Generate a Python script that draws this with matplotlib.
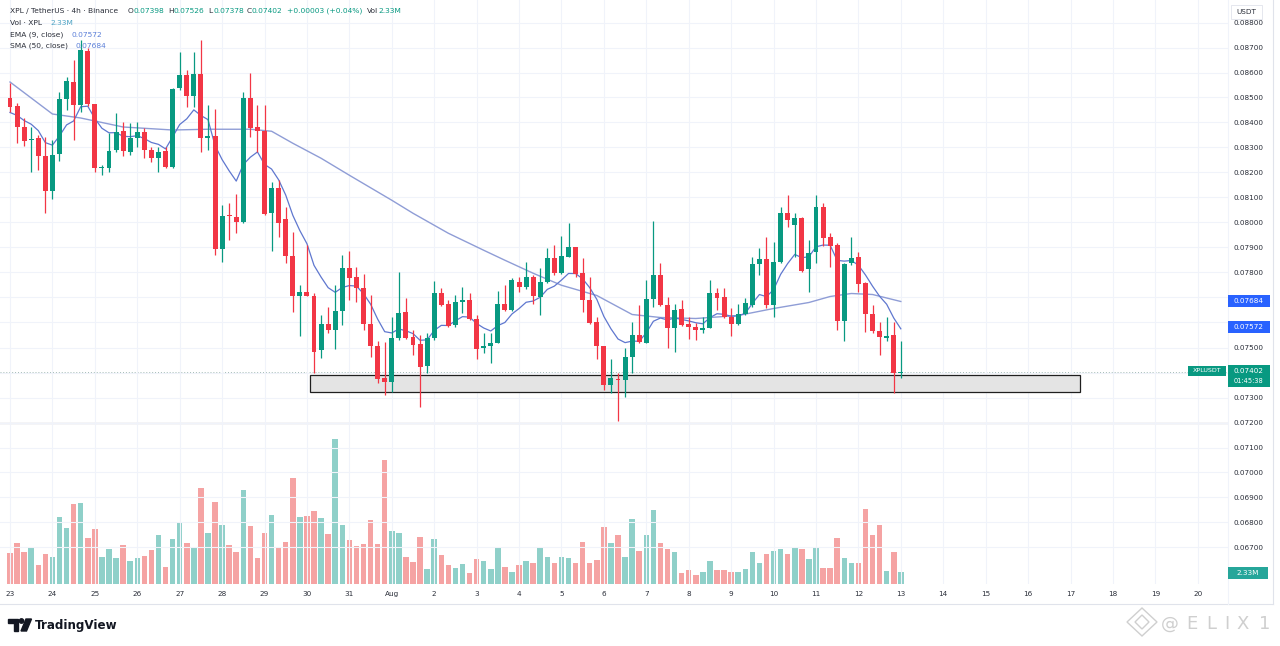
import matplotlib.pyplot as plt
import numpy as np
from matplotlib.patches import Rectangle, Polygon, Ellipse

W, H = 1280, 646

# 4h candles, Jul 23 00:00 .. Aug 13 00:00
opens = [0.08498, 0.08466, 0.08382, 0.08330, 0.08338, 0.08266, 0.08126, 0.08275, 0.08494, 0.08562,
         0.08470, 0.08686, 0.08474, 0.08218, 0.08218, 0.08290, 0.08366, 0.08282, 0.08338, 0.08362,
         0.08290, 0.08258, 0.08286, 0.08222, 0.08538, 0.08590, 0.08506, 0.08594, 0.08338, 0.08346,
         0.07894, 0.08030, 0.08022, 0.08002, 0.08498, 0.08382, 0.08366, 0.08038, 0.08138, 0.08014,
         0.07866, 0.07706, 0.07722, 0.07706, 0.07490, 0.07594, 0.07570, 0.07646, 0.07818, 0.07782,
         0.07738, 0.07594, 0.07506, 0.07378, 0.07362, 0.07538, 0.07642, 0.07542, 0.07514, 0.07426,
         0.07538, 0.07718, 0.07674, 0.07590, 0.07682, 0.07690, 0.07614, 0.07498, 0.07506, 0.07518,
         0.07674, 0.07650, 0.07762, 0.07742, 0.07782, 0.07702, 0.07762, 0.07858, 0.07798, 0.07862,
         0.07902, 0.07798, 0.07690, 0.07602, 0.07506, 0.07350, 0.07374, 0.07370, 0.07462, 0.07550,
         0.07518, 0.07694, 0.07790, 0.07670, 0.07578, 0.07654, 0.07594, 0.07582, 0.07570, 0.07578,
         0.07718, 0.07702, 0.07622, 0.07594, 0.07634, 0.07670, 0.07834, 0.07854, 0.07670, 0.07842,
         0.08038, 0.07990, 0.08018, 0.07814, 0.07882, 0.08062, 0.07942, 0.07910, 0.07606, 0.07838,
         0.07862, 0.07758, 0.07634, 0.07566, 0.07538, 0.07550, 0.07398]
highs = [0.08558, 0.08478, 0.08418, 0.08382, 0.08350, 0.08342, 0.08330, 0.08522, 0.08582, 0.08650,
         0.08730, 0.08700, 0.08474, 0.08230, 0.08358, 0.08438, 0.08402, 0.08398, 0.08402, 0.08378,
         0.08302, 0.08302, 0.08302, 0.08538, 0.08682, 0.08610, 0.08682, 0.08730, 0.08470, 0.08454,
         0.08070, 0.08078, 0.08114, 0.08522, 0.08598, 0.08470, 0.08470, 0.08162, 0.08170, 0.08062,
         0.07962, 0.07750, 0.07910, 0.07718, 0.07630, 0.07662, 0.07750, 0.07870, 0.07886, 0.07822,
         0.07794, 0.07710, 0.07526, 0.07522, 0.07622, 0.07802, 0.07698, 0.07570, 0.07550, 0.07558,
         0.07766, 0.07738, 0.07690, 0.07710, 0.07742, 0.07718, 0.07630, 0.07558, 0.07558, 0.07726,
         0.07750, 0.07778, 0.07782, 0.07842, 0.07790, 0.07818, 0.07898, 0.07910, 0.07946, 0.07998,
         0.07902, 0.07858, 0.07782, 0.07622, 0.07506, 0.07454, 0.07398, 0.07498, 0.07602, 0.07670,
         0.07770, 0.08006, 0.07838, 0.07702, 0.07674, 0.07690, 0.07622, 0.07598, 0.07622, 0.07770,
         0.07738, 0.07738, 0.07658, 0.07674, 0.07698, 0.07862, 0.07898, 0.07942, 0.07922, 0.08062,
         0.08110, 0.08038, 0.08022, 0.07930, 0.08110, 0.08078, 0.07958, 0.07918, 0.07838, 0.07942,
         0.07882, 0.07762, 0.07670, 0.07602, 0.07622, 0.07602, 0.07526]
lows = [0.08442, 0.08318, 0.08306, 0.08202, 0.08210, 0.08038, 0.08094, 0.08246, 0.08450, 0.08330,
        0.08442, 0.08466, 0.08202, 0.08190, 0.08202, 0.08282, 0.08266, 0.08270, 0.08302, 0.08258,
        0.08242, 0.08202, 0.08218, 0.08218, 0.08530, 0.08462, 0.08462, 0.08282, 0.08290, 0.07870,
        0.07842, 0.07930, 0.07958, 0.07998, 0.08342, 0.08282, 0.08030, 0.07886, 0.07942, 0.07838,
        0.07642, 0.07546, 0.07706, 0.07398, 0.07458, 0.07558, 0.07494, 0.07590, 0.07690, 0.07682,
        0.07570, 0.07462, 0.07358, 0.07310, 0.07322, 0.07530, 0.07534, 0.07470, 0.07262, 0.07398,
        0.07530, 0.07666, 0.07582, 0.07582, 0.07638, 0.07610, 0.07454, 0.07478, 0.07438, 0.07518,
        0.07646, 0.07646, 0.07722, 0.07734, 0.07674, 0.07630, 0.07758, 0.07790, 0.07794, 0.07862,
        0.07782, 0.07642, 0.07594, 0.07454, 0.07330, 0.07318, 0.07206, 0.07302, 0.07398, 0.07518,
        0.07518, 0.07662, 0.07666, 0.07498, 0.07482, 0.07586, 0.07534, 0.07530, 0.07558, 0.07578,
        0.07650, 0.07618, 0.07546, 0.07590, 0.07630, 0.07662, 0.07790, 0.07658, 0.07622, 0.07838,
        0.07982, 0.07862, 0.07802, 0.07722, 0.07838, 0.07906, 0.07822, 0.07570, 0.07526, 0.07830,
        0.07722, 0.07562, 0.07558, 0.07470, 0.07526, 0.07318, 0.07378]
closes = [0.08462, 0.08382, 0.08326, 0.08334, 0.08266, 0.08126, 0.08270, 0.08494, 0.08566, 0.08470,
          0.08690, 0.08474, 0.08218, 0.08222, 0.08286, 0.08362, 0.08286, 0.08338, 0.08362, 0.08290,
          0.08258, 0.08282, 0.08222, 0.08534, 0.08590, 0.08506, 0.08594, 0.08338, 0.08346, 0.07894,
          0.08026, 0.08026, 0.08002, 0.08498, 0.08378, 0.08366, 0.08034, 0.08138, 0.07998, 0.07866,
          0.07706, 0.07722, 0.07706, 0.07482, 0.07594, 0.07570, 0.07646, 0.07818, 0.07778, 0.07738,
          0.07594, 0.07506, 0.07374, 0.07362, 0.07538, 0.07638, 0.07538, 0.07510, 0.07422, 0.07538,
          0.07718, 0.07670, 0.07586, 0.07682, 0.07690, 0.07614, 0.07494, 0.07506, 0.07518, 0.07674,
          0.07650, 0.07770, 0.07742, 0.07782, 0.07706, 0.07762, 0.07858, 0.07798, 0.07866, 0.07902,
          0.07794, 0.07690, 0.07598, 0.07506, 0.07350, 0.07378, 0.07370, 0.07462, 0.07550, 0.07522,
          0.07694, 0.07790, 0.07670, 0.07578, 0.07650, 0.07590, 0.07582, 0.07570, 0.07578, 0.07718,
          0.07698, 0.07622, 0.07594, 0.07634, 0.07678, 0.07834, 0.07854, 0.07670, 0.07842, 0.08038,
          0.08010, 0.08018, 0.07806, 0.07878, 0.08062, 0.07938, 0.07906, 0.07606, 0.07834, 0.07858,
          0.07754, 0.07634, 0.07566, 0.07542, 0.07546, 0.07398, 0.07402]
# volume in millions
volume = [6.3, 8.2, 6.5, 7.3, 3.9, 6.1, 5.5, 13.5, 11.2, 16.0,
          16.3, 9.2, 11.1, 5.5, 7.1, 5.3, 7.9, 4.7, 5.3, 5.7,
          6.8, 9.8, 3.5, 9.1, 12.5, 8.2, 7.2, 19.3, 10.3, 16.5,
          11.8, 7.9, 6.5, 18.9, 11.7, 5.3, 10.2, 13.9, 7.2, 8.5,
          21.3, 13.5, 13.7, 14.7, 13.3, 10.0, 29.1, 11.9, 8.8, 7.7,
          8.1, 12.8, 8.1, 24.9, 10.7, 10.2, 5.5, 4.5, 9.5, 3.0,
          9.0, 5.8, 3.8, 3.3, 4.0, 2.2, 5.0, 4.7, 3.0, 7.5,
          3.5, 2.5, 3.9, 4.7, 4.2, 7.2, 5.5, 4.2, 5.5, 5.3,
          4.3, 8.5, 4.3, 4.9, 11.5, 8.3, 9.9, 5.5, 13.0, 6.7,
          9.8, 14.8, 8.2, 7.1, 6.5, 2.2, 2.9, 1.9, 2.5, 4.7,
          2.9, 2.9, 2.5, 2.5, 3.1, 6.5, 4.2, 6.1, 6.7, 7.1,
          6.0, 7.5, 7.0, 5.1, 7.3, 3.3, 3.3, 9.2, 5.3, 4.2,
          4.2, 15.0, 9.9, 11.8, 2.7, 6.5, 2.33]

ema_seed = 0.0844
sma_idx = [0, 6, 10, 16, 23, 28, 34, 37, 40, 44, 48, 54, 57, 62, 67, 70, 74, 78,
           83, 88, 92, 97, 103, 108, 113, 116, 119, 122, 126]
sma_val = [0.08562, 0.08434, 0.08418, 0.08382, 0.08370, 0.08373, 0.08373, 0.08365,
           0.08317, 0.08257, 0.08189, 0.08089, 0.08037, 0.07957, 0.07889, 0.07849,
           0.07797, 0.07749, 0.07708, 0.07632, 0.07620, 0.07616, 0.07628, 0.07656,
           0.07680, 0.07704, 0.07716, 0.07712, 0.07684]

day_labels = ["23", "24", "25", "26", "27", "28", "29", "30", "31", "Aug",
              "2", "3", "4", "5", "6", "7", "8", "9", "10", "11", "12", "13",
              "14", "15", "16", "17", "18", "19", "20"]
price_ticks = [0.067, 0.068, 0.069, 0.070, 0.071, 0.072, 0.073, 0.074, 0.075, 0.076,
               0.077, 0.078, 0.079, 0.080, 0.081, 0.082, 0.083, 0.084, 0.085, 0.086,
               0.087, 0.088]
hidden_ticks = [0.076, 0.077]  # sit under the EMA / SMA value badges
zone = (0.07322, 0.07390)
last_price = 0.07402

UP = "#089981"
DOWN = "#f23645"
UP_VOL = "#8fd0c9"
DOWN_VOL = "#f5a3a3"
TXT = "#2a2e39"


def fx(x):
    return x / W


def fy(y):
    return 1 - y / H


def ftext(x, y, s, color=TXT, size=5.4, **kw):
    fig.text(fx(x), fy(y), s, color=color, fontsize=size, va="center", zorder=10, **kw)


def fbox(x0, y0, x1, y1, color, edge="none"):
    fig.add_artist(Rectangle((fx(x0), fy(y1)), (x1 - x0) / W, (y1 - y0) / H,
                             transform=fig.transFigure, facecolor=color,
                             edgecolor=edge, lw=0.6, zorder=8))


o = np.array(opens)
h = np.array(highs)
l = np.array(lows)
c = np.array(closes)
x = np.arange(len(o))
up = c >= o
col = np.where(up, UP, DOWN)
vcol = np.where(up, UP_VOL, DOWN_VOL)

ema = [ema_seed]
for v in c[1:]:
    ema.append(ema[-1] + (v - ema[-1]) * 2 / 10)

fig = plt.figure(figsize=(12.8, 6.46), dpi=100)
rect = [0, fy(584), fx(1228), 584 / H]
xlim = (-10 / 7.07, 1218 / 7.07)

# volume overlay underneath
axv = fig.add_axes(rect)
axv.bar(x, volume, width=0.78, color=vcol, zorder=2)
axv.set_xlim(*xlim)
axv.set_ylim(0, 584 / 5)
axv.axis("off")

ax = fig.add_axes(rect)
ax.patch.set_alpha(0)
ax.set_xlim(*xlim)
ax.set_ylim(0.0889 - 584 * 0.00004, 0.0889)
for s in ax.spines.values():
    s.set_visible(False)

ax.set_xticks(np.arange(len(day_labels)) * 6)
ax.set_xticklabels(day_labels)
ax.set_yticks(price_ticks)
ax.set_yticklabels(["" if any(abs(p - q) < 1e-9 for q in hidden_ticks) else f"{p:.5f}"
                    for p in price_ticks])
ax.yaxis.tick_right()
ax.tick_params(axis="x", length=0, pad=5.2, labelsize=5.2, labelcolor=TXT)
ax.tick_params(axis="y", length=0, pad=3.6, labelsize=5.2, labelcolor=TXT)
ax.grid(color="#f0f3fa", lw=0.8, zorder=0)

ax.axhline(0.088, color="#b8bcc6", lw=0.7, ls=(0, (1, 2)), zorder=1)
ax.axhline(0.072, color="#b2b5be", lw=0.9, zorder=1)
ax.axhline(last_price, color="#9fb8b3", lw=0.7, ls=(0, (1, 2)), zorder=1)

ax.add_patch(Rectangle((310 / 7.07 - 10 / 7.07, zone[0]), 770 / 7.07, zone[1] - zone[0],
                       facecolor="#e4e4e4", edgecolor="#1f1f1f", lw=0.9, zorder=2))

ax.plot(sma_idx, sma_val, color="#8f9dd6", lw=1.0, zorder=3)
ax.plot(x, ema, color="#5f77cf", lw=0.9, zorder=3)

ax.vlines(x, l, h, colors=col, lw=0.9, zorder=4)
ax.bar(x, np.maximum(np.abs(c - o), 0.00004), bottom=np.minimum(o, c),
       width=0.7, color=col, zorder=5)

# chart frame
fig.add_artist(plt.Line2D([0, fx(1273)], [fy(604), fy(604)], transform=fig.transFigure,
                          color="#e0e3eb", lw=0.8))
fig.add_artist(plt.Line2D([fx(1273), fx(1273)], [fy(0), fy(604)], transform=fig.transFigure,
                          color="#e0e3eb", lw=0.8))
fig.add_artist(plt.Line2D([fx(1228), fx(1228)], [fy(0), fy(604)], transform=fig.transFigure,
                          color="#f0f3fa", lw=0.8))

# legend
ftext(10, 11, "XPL / TetherUS · 4h · Binance")
for lx, letter, val in [(128, "O", "0.07398"), (168, "H", "0.07526"),
                        (208, "L", "0.07378"), (247, "C", "0.07402")]:
    ftext(lx, 11, letter)
    ftext(lx + 5, 11, val, color=UP)
ftext(287, 11, "+0.00003 (+0.04%)", color=UP)
ftext(367, 11, "Vol", color=TXT)
ftext(378, 11, "2.33M", color=UP)
ftext(10, 23, "Vol · XPL")
ftext(50, 23, "2.33M", color="#4da3c4")
ftext(10, 35, "EMA (9, close)")
ftext(71, 35, "0.07572", color="#5b7fd8")
ftext(10, 46, "SMA (50, close)")
ftext(75, 46, "0.07684", color="#5b7fd8")

# right scale labels
fbox(1231, 5, 1262, 19, "white", edge="#e0e3eb")
ftext(1246.5, 12, "USDT", ha="center", size=5.2)
fbox(1228, 295, 1270, 307, "#2962ff")
ftext(1249, 301, "0.07684", color="white", ha="center", size=5.2)
fbox(1228, 321, 1270, 333, "#2962ff")
ftext(1249, 327, "0.07572", color="white", ha="center", size=5.2)
fbox(1188, 366, 1226, 376, UP)
ftext(1207, 371, "XPLUSDT", color="white", ha="center", size=4.6)
fbox(1228, 365, 1270, 387, UP)
ftext(1249, 371, "0.07402", color="white", ha="center", size=5.2)
ftext(1249, 381, "01:45:38", color="white", ha="center", size=4.8)
fbox(1228, 567, 1268, 579, "#26a69a")
ftext(1248, 573, "2.33M", color="white", ha="center", size=5.2)

# TradingView logo
fig.add_artist(Polygon([(fx(8), fy(619)), (fx(18), fy(619)), (fx(18), fy(631)),
                        (fx(13.5), fy(631)), (fx(13.5), fy(623)), (fx(8), fy(623))],
                       closed=True, transform=fig.transFigure, color="#131722"))
fig.add_artist(Ellipse((fx(21.5), fy(621)), 4.4 / W, 4.4 / H,
                       transform=fig.transFigure, color="#131722"))
fig.add_artist(Polygon([(fx(26), fy(619)), (fx(31.5), fy(619)), (fx(26.5), fy(631)),
                        (fx(21), fy(631))],
                       closed=True, transform=fig.transFigure, color="#131722"))
fig.text(fx(35), fy(625), "TradingView", fontsize=8.6, fontweight="bold",
         color="#131722", va="center")

# watermark
wm = "#cfcfcf"
fig.add_artist(Polygon([(fx(1142), fy(608)), (fx(1157), fy(622)), (fx(1142), fy(636)),
                        (fx(1127), fy(622))],
                       closed=True, transform=fig.transFigure, fill=False,
                       edgecolor=wm, lw=1.0))
fig.add_artist(Polygon([(fx(1142), fy(615)), (fx(1149), fy(622)), (fx(1142), fy(629)),
                        (fx(1135), fy(622))],
                       closed=True, transform=fig.transFigure, fill=False,
                       edgecolor=wm, lw=1.0))
for wx, ch in [(1170, "@"), (1192, "E"), (1211, "L"), (1227, "I"), (1243, "X"), (1265, "1")]:
    fig.text(fx(wx), fy(624), ch, fontsize=13, color=wm, ha="center", va="center")

fig.savefig("out.png", dpi=100)
